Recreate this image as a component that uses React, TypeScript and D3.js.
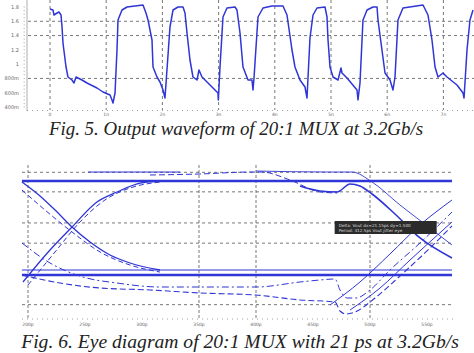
import { useRef, useEffect } from "react";
import * as d3 from "d3";

// Fig. 5 output waveform: time (ns) / volts
const waveTime = [0, 0.053, 0.071, 0.125, 0.16, 0.196, 0.214, 0.231, 0.285, 0.32, 0.391, 0.427, 0.463, 0.498, 0.569, 0.658, 0.836, 0.943, 1.068, 1.103, 1.121, 1.157, 1.192, 1.21, 1.281, 1.37, 1.655, 1.708, 1.744, 1.815, 1.833, 1.904, 1.957, 2.011, 2.046, 2.135, 2.189, 2.278, 2.367, 2.402, 2.438, 2.491, 2.544, 2.616, 2.651, 2.705, 2.794, 2.989, 2.995, 3.025, 3.078, 3.149, 3.292, 3.327, 3.381, 3.434, 3.523, 3.594, 3.612, 3.63, 3.701, 3.79, 3.95, 4.146, 4.217, 4.306, 4.359, 4.448, 4.537, 4.573, 4.626, 4.68, 4.751, 4.893, 4.929, 4.947, 4.982, 5.036, 5.125, 5.178, 5.196, 5.285, 5.463, 5.48, 5.516, 5.569, 5.641, 5.747, 5.819, 5.836, 5.907, 5.961, 6.05, 6.103, 6.139, 6.192, 6.281, 6.637, 6.726, 6.797, 6.851, 6.904, 6.993, 7.064, 7.242, 7.349, 7.367, 7.42, 7.473, 7.527];
const waveVolt = [1.772, 1.758, 1.688, 1.716, 1.73, 1.688, 1.52, 1.296, 0.96, 0.82, 0.778, 0.736, 0.82, 0.806, 0.778, 0.736, 0.666, 0.61, 0.568, 0.498, 0.456, 0.596, 1.198, 1.618, 1.758, 1.8, 1.828, 1.716, 1.618, 1.338, 0.96, 0.82, 0.75, 0.638, 0.526, 1.52, 1.758, 1.8, 1.8, 1.716, 1.436, 1.058, 0.82, 0.778, 0.918, 0.82, 0.75, 0.596, 0.498, 0.96, 1.66, 1.786, 1.8, 1.758, 1.436, 0.96, 0.778, 0.778, 0.638, 0.806, 1.66, 1.786, 1.814, 1.814, 1.688, 1.198, 0.96, 0.778, 0.68, 0.526, 1.366, 1.688, 1.786, 1.8, 1.66, 1.338, 0.96, 0.82, 0.778, 0.946, 0.876, 0.806, 0.638, 0.498, 0.736, 1.618, 1.758, 1.8, 1.8, 1.618, 1.198, 0.876, 0.778, 0.638, 0.82, 1.618, 1.786, 1.828, 1.688, 1.338, 0.96, 0.82, 0.876, 0.82, 0.708, 0.596, 0.526, 1.198, 1.618, 1.758];
const waveXTicks = [0, 1, 2, 3, 4, 5, 6, 7];
const waveXLabels = ["0", "1n", "2n", "3n", "4n", "5n", "6n", "7n"];
const waveYTicks = [1.8, 1.6, 1.4, 1.2, 1.0, 0.8, 0.6, 0.4];
const waveYLabels = ["1.8", "1.6", "1.4", "1.2", "1", "800m", "600m", "400m"];
const waveGrid = [1.6, 1.4, 0.8];

// Fig. 6 eye diagram: time (ps) / volts
const eyeXTicks = [200, 250, 300, 350, 400, 450, 500, 550];
const eyeXLabels = ["200p", "250p", "300p", "350p", "400p", "450p", "500p", "550p"];
const eyeVGrid = [200, 350, 400, 500];
const eyeHGrid = [1.92, 1.65, 1.22, 0.94, 0.5, 0.09];

const eyeHighRail = [[194.7, 1.8], [571.9, 1.8]];
const eyeLowRail = [[194.7, 0.5], [571.9, 0.5]];
const eyeLowThin = [[194.7, 0.569], [571.9, 0.569]];
const eyeTopThin = [[252.6, 1.924], [333.3, 1.924]];
const eyeBump = [[438.6, 1.731], [456.1, 1.662], [471.1, 1.648], [482.5, 1.759], [491.2, 1.731], [501.8, 1.62], [521.9, 1.344], [543.9, 1.012], [571.9, 0.735]];
const eyeTopDash = [[307.0, 1.883], [350.9, 1.897], [394.7, 1.924], [405.3, 1.924], [429.8, 1.814], [456.1, 1.648], [471.1, 1.634]];
const eyeTopFall = [[400, 1.938], [464.9, 1.924], [484.2, 1.924], [501.8, 1.786], [526.3, 1.468], [552.6, 1.15], [571.9, 0.915]];
const eyeFall = [[194.7, 1.786], [210.5, 1.593], [223.7, 1.399], [238.6, 1.164], [254.4, 0.956], [271.9, 0.777], [289.5, 0.666], [315.8, 0.569]];
const eyeFallDash = [[194.7, 1.676], [214.9, 1.399], [238.6, 1.095], [263.2, 0.818], [289.5, 0.638], [315.8, 0.541]];
const eyeRise = [[195.6, 0.403], [219.3, 0.846], [238.6, 1.164], [260.5, 1.51], [278.1, 1.648], [298.2, 1.772], [315.8, 1.8]];
const eyeRiseDash = [[200, 0.362], [223.7, 0.818], [245.6, 1.233], [267.5, 1.537], [289.5, 1.703], [315.8, 1.786]];
const eyeLowA = [[194.7, 0.943], [219.3, 0.666], [248.2, 0.472], [278.1, 0.389], [315.8, 0.334], [350.9, 0.334], [400, 0.334], [438.6, 0.403], [456.1, 0.431], [469.3, 0.445], [473.7, 0.293], [479.8, 0.182], [487.7, 0.182], [500, 0.293], [517.5, 0.569], [543.9, 0.943], [571.9, 1.371]];
const eyeLowB = [[194.7, 0.5], [228.1, 0.389], [263.2, 0.32], [307.0, 0.293], [350.9, 0.251], [400, 0.223], [438.6, 0.155], [469.3, 0.127], [473.7, 0.002], [479.0, -0.039], [486.8, -0.012], [504.4, 0.182], [526.3, 0.486], [552.6, 0.873], [571.9, 1.178]];
const eyeRiseR1 = [[464.9, 0.085], [491.2, 0.403], [517.5, 0.79], [543.9, 1.192], [571.9, 1.537]];
const eyeRiseR2 = [[482.5, 0.016], [508.8, 0.32], [535.1, 0.707], [571.9, 1.233]];

const eyeTraces = [
  { pts: eyeHighRail, w: 2.4, dash: null },
  { pts: eyeLowRail, w: 2.4, dash: null },
  { pts: eyeLowThin, w: 1, dash: null },
  { pts: eyeTopThin, w: 1, dash: null },
  { pts: eyeBump, w: 1.6, dash: null },
  { pts: eyeTopDash, w: 1, dash: "6,3" },
  { pts: eyeTopFall, w: 0.9, dash: null },
  { pts: eyeFall, w: 1.3, dash: null },
  { pts: eyeFallDash, w: 1, dash: "5,3" },
  { pts: eyeRise, w: 1.3, dash: null },
  { pts: eyeRiseDash, w: 1, dash: "5,3" },
  { pts: eyeLowA, w: 1, dash: "7,3,2,3" },
  { pts: eyeLowB, w: 1.1, dash: "6,3" },
  { pts: eyeRiseR1, w: 1, dash: null },
  { pts: eyeRiseR2, w: 1, dash: null },
];

const BLUE = "#2f35d6";
const GRID = "#555";

export default function App() {
  const svgRef = useRef(null);

  useEffect(() => {
    const svg = d3.select(svgRef.current);
    svg.selectAll("*").remove();

    // ---------- Fig. 5 ----------
    const xT = d3.scaleLinear().domain([0, 1]).range([50, 106.2]);
    const yT = d3.scaleLinear().domain([0.4, 1.8]).range([107, 7]);
    const top = svg.append("g");

    top.selectAll("line.hg").data(waveGrid).join("line")
      .attr("x1", 28).attr("x2", 474)
      .attr("y1", (d) => yT(d)).attr("y2", (d) => yT(d))
      .attr("stroke", GRID).attr("stroke-width", 0.8).attr("stroke-dasharray", "3,3");
    top.selectAll("line.vg").data(waveXTicks).join("line")
      .attr("x1", (d) => xT(d)).attr("x2", (d) => xT(d))
      .attr("y1", 0).attr("y2", 110)
      .attr("stroke", GRID).attr("stroke-width", 0.8).attr("stroke-dasharray", "3,3");

    top.append("line").attr("x1", 27).attr("x2", 27).attr("y1", 0).attr("y2", 111)
      .attr("stroke", "#999").attr("stroke-width", 0.8);
    top.append("line").attr("x1", 27).attr("x2", 474).attr("y1", 110.5).attr("y2", 110.5)
      .attr("stroke", "#888").attr("stroke-width", 0.8).attr("stroke-dasharray", "1,4");
    top.selectAll("line.mt").data(yT.ticks(28)).join("line")
      .attr("x1", 23.5).attr("x2", 25).attr("y1", (d) => yT(d)).attr("y2", (d) => yT(d))
      .attr("stroke", "#999").attr("stroke-width", 0.6);

    top.selectAll("text.yl").data(waveYTicks).join("text")
      .attr("x", 19).attr("y", (d) => yT(d) + 1.8)
      .attr("text-anchor", "end").attr("font-size", 5).attr("fill", "#666")
      .attr("font-family", "DejaVu Sans")
      .text((d, i) => waveYLabels[i]);
    top.selectAll("text.xl").data(waveXTicks).join("text")
      .attr("x", (d) => xT(d)).attr("y", 116)
      .attr("text-anchor", "middle").attr("font-size", 4.5).attr("fill", "#666")
      .attr("font-family", "DejaVu Sans")
      .text((d, i) => waveXLabels[i]);

    const waveLine = d3.line<number>()
      .x((d) => xT(waveTime[d]))
      .y((d) => yT(waveVolt[d]));
    top.append("path")
      .attr("d", waveLine(d3.range(waveTime.length)))
      .attr("fill", "none").attr("stroke", BLUE).attr("stroke-width", 1.5)
      .attr("stroke-linejoin", "round");

    top.append("text")
      .attr("x", 236).attr("y", 135)
      .attr("text-anchor", "middle").attr("font-size", 18.9)
      .attr("font-family", "Liberation Serif").attr("font-style", "italic")
      .attr("fill", "#222")
      .text("Fig. 5. Output waveform of 20:1 MUX at 3.2Gb/s");

    // ---------- Fig. 6 ----------
    const xE = d3.scaleLinear().domain([200, 250]).range([28, 85]);
    const yE = d3.scaleLinear().domain([0.5, 1.8]).range([275, 181]);
    const eye = svg.append("g");

    eye.selectAll("line.hg").data(eyeHGrid).join("line")
      .attr("x1", 22).attr("x2", 452)
      .attr("y1", (d) => yE(d)).attr("y2", (d) => yE(d))
      .attr("stroke", GRID).attr("stroke-width", 0.8).attr("stroke-dasharray", "3,3");
    eye.selectAll("line.vg").data(eyeVGrid).join("line")
      .attr("x1", (d) => xE(d)).attr("x2", (d) => xE(d))
      .attr("y1", 165).attr("y2", 320)
      .attr("stroke", GRID).attr("stroke-width", 0.8).attr("stroke-dasharray", "3,2");
    eye.append("line").attr("x1", 22).attr("x2", 456).attr("y1", 319).attr("y2", 319)
      .attr("stroke", "#888").attr("stroke-width", 0.8).attr("stroke-dasharray", "1,4");
    eye.selectAll("text.xl").data(eyeXTicks).join("text")
      .attr("x", (d) => xE(d)).attr("y", 326)
      .attr("text-anchor", "middle").attr("font-size", 4.5).attr("fill", "#666")
      .attr("font-family", "DejaVu Sans")
      .text((d, i) => eyeXLabels[i]);

    const eyeLine = d3.line<number[]>()
      .x((d) => xE(d[0]))
      .y((d) => yE(d[1]))
      .curve(d3.curveMonotoneX);
    eye.selectAll("path.tr").data(eyeTraces).join("path")
      .attr("d", (d) => eyeLine(d.pts))
      .attr("fill", "none").attr("stroke", BLUE)
      .attr("stroke-width", (d) => d.w)
      .attr("stroke-dasharray", (d) => d.dash);

    // marker readout box
    const tip = eye.append("g").attr("transform", `translate(${xE(469)},221)`);
    tip.append("rect").attr("width", 102).attr("height", 13).attr("fill", "#2b2b2b");
    tip.append("text").attr("x", 4).attr("y", 5.5).attr("font-size", 4.2).attr("fill", "#ddd")
      .attr("font-family", "DejaVu Sans").text("Delta: Vout dx=21.15ps dy=1.500");
    tip.append("text").attr("x", 4).attr("y", 10.5).attr("font-size", 4.2).attr("fill", "#ddd")
      .attr("font-family", "DejaVu Sans").text("Period: 312.5ps  Vout jitter eye");

    eye.append("text")
      .attr("x", 240).attr("y", 348)
      .attr("text-anchor", "middle").attr("font-size", 19.6)
      .attr("font-family", "Liberation Serif").attr("font-style", "italic")
      .attr("fill", "#222")
      .text("Fig. 6. Eye diagram of 20:1 MUX with 21 ps at 3.2Gb/s");
  }, []);

  return (
    <svg
      ref={svgRef}
      width={474}
      height={353}
      style={{ position: "fixed", left: 0, top: 0, background: "#fff" }}
    />
  );
}
